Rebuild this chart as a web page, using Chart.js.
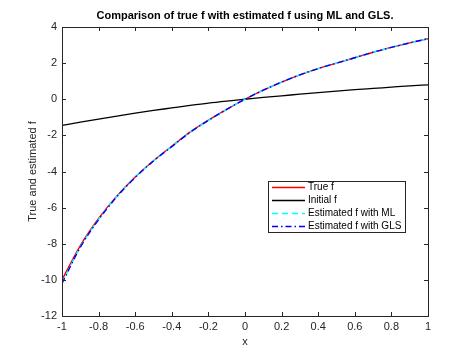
<!DOCTYPE html>
<html>
<head>
<meta charset="utf-8">
<script src="https://cdn.jsdelivr.net/npm/chart.js@4/dist/chart.umd.min.js"></script>
<style>
  html, body { margin: 0; padding: 0; background: #ffffff; }
  #wrap { width: 474px; height: 355px; }
</style>
</head>
<body>
<div id="wrap"><canvas id="c" width="474" height="355"></canvas></div>
<script>
// ---- Data ----
const xs = [-1, -0.9, -0.8, -0.7, -0.6, -0.5, -0.4, -0.3, -0.2, -0.1, 0, 0.1, 0.2, 0.3, 0.4, 0.5, 0.6, 0.7, 0.8, 0.9, 1];
const trueF = [-10.0, -8.1, -6.6, -5.35, -4.3, -3.4, -2.6, -1.82, -1.16, -0.56, 0, 0.5, 0.95, 1.35, 1.7, 2.0, 2.3, 2.6, 2.87, 3.12, 3.35];
const initialF = [-1.45, -1.27, -1.10, -0.93, -0.77, -0.62, -0.48, -0.34, -0.21, -0.10, 0, 0.10, 0.19, 0.28, 0.37, 0.45, 0.53, 0.60, 0.67, 0.74, 0.80];
const mlF = [-10.15, -8.18, -6.65, -5.38, -4.32, -3.41, -2.61, -1.83, -1.17, -0.56, 0, 0.5, 0.95, 1.35, 1.7, 2.0, 2.3, 2.6, 2.87, 3.12, 3.35];
const glsF = [-10.2, -8.2, -6.67, -5.4, -4.33, -3.42, -2.62, -1.83, -1.17, -0.56, 0, 0.5, 0.95, 1.35, 1.7, 2.0, 2.3, 2.6, 2.87, 3.12, 3.35];
const seriesLabels = ['True f', 'Initial f', 'Estimated f with ML', 'Estimated f with GLS'];
const xTickValues = [-1, -0.8, -0.6, -0.4, -0.2, 0, 0.2, 0.4, 0.6, 0.8, 1];
const xTickLabels = ['-1', '-0.8', '-0.6', '-0.4', '-0.2', '0', '0.2', '0.4', '0.6', '0.8', '1'];
const yTickValues = [-12, -10, -8, -6, -4, -2, 0, 2, 4];
const yTickLabels = ['-12', '-10', '-8', '-6', '-4', '-2', '0', '2', '4'];
const titleText = 'Comparison of true f with estimated f using ML and GLS.';
const xTitle = 'x';
const yTitle = 'True and estimated f';

const FONT = '"Liberation Sans", Arial, Helvetica, sans-serif';
const AXIS_COLOR = '#262626';

function pts(ys) { return xs.map((x, i) => ({ x: x, y: ys[i] })); }

const styles = [
  { color: '#ff0000', dash: [], width: 1.4 },
  { color: '#000000', dash: [], width: 1.3 },
  { color: '#00ffff', dash: [6, 4], width: 1.4 },
  { color: '#0000ff', dash: [6, 3, 1.5, 3], width: 1.4 }
];
const values = [trueF, initialF, mlF, glsF];

const datasets = values.map((v, i) => ({
  label: seriesLabels[i],
  data: pts(v),
  borderColor: styles[i].color,
  backgroundColor: styles[i].color,
  borderDash: styles[i].dash,
  borderWidth: styles[i].width,
  pointRadius: 0,
  fill: false,
  order: values.length - 1 - i,
  cubicInterpolationMode: 'monotone'
}));

const decor = {
  id: 'decor',
  afterDraw(chart) {
    const ctx = chart.ctx;
    const a = chart.chartArea;
    const xS = chart.scales.x, yS = chart.scales.y;
    ctx.save();
    // box
    ctx.strokeStyle = AXIS_COLOR;
    ctx.lineWidth = 1;
    ctx.setLineDash([]);
    ctx.strokeRect(Math.round(a.left) + 0.5, Math.round(a.top) + 0.5, Math.round(a.right - a.left), Math.round(a.bottom - a.top));
    // inward ticks
    const tl = 4;
    ctx.beginPath();
    xTickValues.forEach(v => {
      const px = Math.round(xS.getPixelForValue(v)) + 0.5;
      ctx.moveTo(px, a.bottom); ctx.lineTo(px, a.bottom - tl);
      ctx.moveTo(px, a.top); ctx.lineTo(px, a.top + tl);
    });
    yTickValues.forEach(v => {
      const py = Math.round(yS.getPixelForValue(v)) + 0.5;
      ctx.moveTo(a.left, py); ctx.lineTo(a.left + tl, py);
      ctx.moveTo(a.right, py); ctx.lineTo(a.right - tl, py);
    });
    ctx.stroke();

    // title
    ctx.fillStyle = '#000000';
    ctx.font = 'bold 11px ' + FONT;
    ctx.textAlign = 'center';
    ctx.textBaseline = 'middle';
    ctx.fillText(titleText, (a.left + a.right) / 2, 16);

    // axis titles
    ctx.fillStyle = AXIS_COLOR;
    ctx.font = '11px ' + FONT;
    ctx.fillText(xTitle, (a.left + a.right) / 2, 342);
    ctx.save();
    ctx.translate(33, (a.top + a.bottom) / 2);
    ctx.rotate(-Math.PI / 2);
    ctx.fillText(yTitle, 0, 0);
    ctx.restore();

    // legend
    const lx = 268.5, ly = 181.5, lw = 137, lh = 51;
    ctx.fillStyle = '#ffffff';
    ctx.fillRect(lx, ly, lw, lh);
    ctx.strokeStyle = AXIS_COLOR;
    ctx.lineWidth = 1;
    ctx.strokeRect(lx, ly, lw, lh);
    ctx.font = '10px ' + FONT;
    ctx.textAlign = 'left';
    ctx.textBaseline = 'middle';
    chart.data.datasets.forEach((ds, i) => {
      const cy = 187.5 + i * 13;
      ctx.strokeStyle = ds.borderColor;
      ctx.lineWidth = ds.borderWidth;
      ctx.setLineDash(ds.borderDash || []);
      ctx.beginPath();
      ctx.moveTo(272, cy);
      ctx.lineTo(305, cy);
      ctx.stroke();
      ctx.setLineDash([]);
      ctx.fillStyle = '#000000';
      ctx.fillText(ds.label, 308, cy);
    });
    ctx.restore();
  }
};

new Chart(document.getElementById('c'), {
  type: 'line',
  data: { datasets: datasets },
  options: {
    responsive: false,
    animation: false,
    layout: { padding: { left: 0, right: 46, top: 27, bottom: 0 } },
    plugins: { legend: { display: false }, title: { display: false }, tooltip: { enabled: false } },
    scales: {
      x: {
        type: 'linear', min: -1, max: 1,
        afterBuildTicks(s) { s.ticks = xTickValues.map(v => ({ value: v })); },
        afterFit(s) { s.height = 39; },
        grid: { display: false, drawTicks: false },
        border: { display: false },
        ticks: {
          padding: 4, color: AXIS_COLOR, font: { family: FONT, size: 11 },
          maxRotation: 0, autoSkip: false,
          callback(v) { const i = xTickValues.indexOf(v); return i >= 0 ? xTickLabels[i] : ''; }
        }
      },
      y: {
        type: 'linear', min: -12, max: 4,
        afterBuildTicks(s) { s.ticks = yTickValues.map(v => ({ value: v })); },
        afterFit(s) { s.width = 62; },
        grid: { display: false, drawTicks: false },
        border: { display: false },
        ticks: {
          padding: 5, color: AXIS_COLOR, font: { family: FONT, size: 11 },
          autoSkip: false,
          callback(v) { const i = yTickValues.indexOf(v); return i >= 0 ? yTickLabels[i] : ''; }
        }
      }
    }
  },
  plugins: [decor]
});
</script>
</body>
</html>
